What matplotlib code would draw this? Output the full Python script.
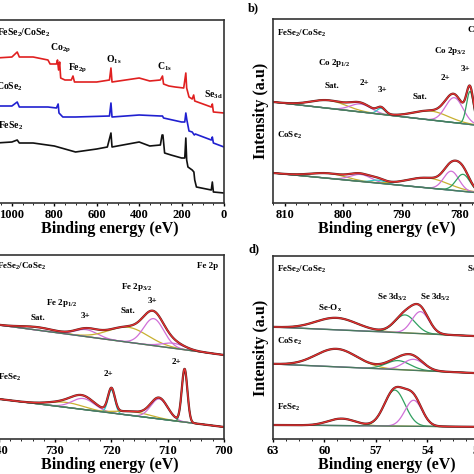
import numpy as np
import matplotlib
matplotlib.use("Agg")
import matplotlib.pyplot as plt

plt.rcParams['font.family'] = ['Liberation Serif', 'DejaVu Serif']
plt.rcParams['font.weight'] = 'bold'
plt.rcParams['mathtext.fontset'] = 'custom'
plt.rcParams['mathtext.rm'] = 'Liberation Serif:bold'
plt.rcParams['mathtext.it'] = 'Liberation Serif:bold'
plt.rcParams['mathtext.default'] = 'rm'

# ---- panel a: survey spectra (energy eV, intensity in plot units; larger value = lower on plot)
survey_e_red = [1075,1000,975,965,900,830,820,790,785,780,775,770,750,720,712,705,600,540,533,528,400,350,300,290,285,260,230,190,180,176,165,150,143,138,60,55,50,0]
survey_red = [58,57,52,57,57,60,64,64,60,70,62,78,80,80,76,82,82,80,68,82,78,81,80,76,84,86,87,88,73,88,97,99,95,101,107,104,112,113]
survey_e_blue = [1075,1000,975,965,900,830,790,782,778,760,700,540,533,528,400,300,290,285,200,185,180,175,165,150,140,135,60,55,50,0]
survey_blue = [106,106,102,107,107,107,108,104,113,117,117,116,103,117,115,116,116,118,122,122,113,120,131,132,135,134,140,137,143,147]
survey_e_black = [1075,1000,975,965,900,800,700,600,550,533,528,400,350,300,292,288,280,250,200,185,180,176,170,150,142,138,130,60,55,50,0]
survey_black = [143,142,140,143,143,146,152,149,147,133,147,142,146,145,135,135,153,155,158,158,138,160,167,170,172,180,187,190,182,192,193]

# ---- XPS fit components: centre (eV), height, sigma (eV), colour key
b_top_base = [(812,102),(773,128)]
b_top_peaks = [(802.5,8,3.0,'y'),(797,8,1.8,'p'),(793.5,6,0.7,'c'),(785,9,3.0,'y'),(781,25,1.5,'p'),(778.3,33,0.6,'g')]
b_bot_base = [(812,173),(773,195)]
b_bot_peaks = [(802.5,5,3.0,'y'),(797,7,1.8,'p'),(794,3,1.2,'c'),(785.5,10,3.5,'y'),(781.5,19,1.3,'p'),(779.5,17,1.2,'g')]

c_top_base = [(740,325),(700,355)]
c_top_peaks = [(733,3,3.0,'y'),(724.5,7,2.0,'p'),(717,15,3.5,'y'),(712.5,27,1.8,'p'),(709,5,2.0,'p')]
c_bot_base = [(740,399),(700,427)]
c_bot_peaks = [(728,5,3.0,'y'),(725,11,2.0,'p'),(720,23,0.6,'c'),(716,4,3.0,'y'),(711.5,20,1.5,'p'),(707,53,0.5,'g')]

d_top_base = [(63,327),(50,337)]
d_top_peaks = [(59.3,12,1.2,'y'),(55.3,18,0.6,'g'),(54.4,22,0.5,'p')]
d_mid_base = [(63,364),(50,374)]
d_mid_peaks = [(59.3,18,1.2,'y'),(55.7,9,0.7,'g'),(54.8,11,0.6,'p')]
d_bot_base = [(63,425),(50,427)]
d_bot_peaks = [(59.0,7,0.8,'y'),(55.9,36,0.6,'g'),(54.8,26,0.5,'p')]

cols = {'y':'#c8b030','p':'#d070d8','c':'#30c8c8','g':'#30a060'}

W = 474
fig = plt.figure(figsize=(4.74,4.74), dpi=100)

def mkax(x0,x1,y0,y1,xlim,ylim):
    ax = fig.add_axes([x0/W, 1-y1/W, (x1-x0)/W, (y1-y0)/W])
    ax.set_xlim(*xlim); ax.set_ylim(*ylim)
    ax.set_yticks([])
    for s in ax.spines.values():
        s.set_linewidth(1.2); s.set_color('#333333')
    ax.tick_params(axis='x', labelsize=9, width=1, length=2.5, pad=2, direction='out')
    ax.minorticks_on(); ax.tick_params(axis='y', which='both', left=False)
    ax.tick_params(axis='x', which='minor', length=1.5)
    ax.set_xlabel('Binding energy (eV)', fontsize=11.5, fontweight='bold', labelpad=0)
    return ax

def fit(ax, base, peaks, xlim):
    e = np.linspace(xlim[0], xlim[1], 600)
    (e0,b0),(e1,b1) = base
    bl = b0 + (b1-b0)*(e-e0)/(e1-e0)
    env = bl.copy()
    for c,h,s,k in peaks:
        g = h*np.exp(-(e-c)**2/(2*s*s))
        env -= g
        ax.plot(e, bl-g, color=cols[k], lw=0.9)
    ax.plot(e, bl, color='#4a7a60', lw=1.0)
    ax.plot(e, env, color='#5a2020', lw=1.6)
    ax.plot(e, env, color='#e83030', lw=0.9)

def txt(ax, x, y, s, fs=6.5, ha='center'):
    ax.text(x/W, 1-y/W, s, transform=fig.transFigure, fontsize=fs, fontweight='bold', ha=ha, va='center')

# a
axa = mkax(-4,224,20,203,(1075,0),(203,20))
axa.set_xticks([1000,800,600,400,200,0])
axa.plot(survey_e_red, survey_red, color='#e02020', lw=1.2)
axa.plot(survey_e_blue, survey_blue, color='#2020d0', lw=1.2)
axa.plot(survey_e_black, survey_black, color='#111111', lw=1.2)
for x,y,s,ha in [(-3,33,'FeSe$_2$/CoSe$_2$','left'),(60,48,'Co$_{2p}$','center'),(78,68,'Fe$_{2p}$','center'),
                 (114,60,'O$_{1s}$','center'),(165,67,'C$_{1s}$','center'),(213,95,'Se$_{3d}$','center'),
                 (-4,87,'CoSe$_2$','left'),(-2,126,'FeSe$_2$','left')]:
    txt(axa,x,y,s,fs=7,ha=ha)

# b
axb = mkax(273,501,19,203,(812,773),(203,19))
axb.set_xticks([810,800,790,780])
axb.set_ylabel('Intensity (a.u)', fontsize=11.5, fontweight='bold', labelpad=3)
fit(axb,b_top_base,b_top_peaks,(812,773)); fit(axb,b_bot_base,b_bot_peaks,(812,773))
for x,y,s,ha in [(277,33,'FeSe$_2$/CoSe$_2$','left'),(334,63,'Co 2p$_{1/2}$','center'),(450,51,'Co 2p$_{3/2}$','center'),
                 (332,86,'Sat.','center'),(364,83,'2+','center'),(382,90,'3+','center'),(420,97,'Sat.','center'),
                 (445,78,'2+','center'),(465,69,'3+','center'),(277,135,'CoSe$_2$','left'),(468,30,'Co 2p','left')]:
    txt(axb,x,y,s,ha=ha)
fig.text(248/W, 1-8/W, 'b)', fontsize=9, fontweight='bold', va='center')

# c
axc = mkax(-4,224,255,439,(740.5,700),(439,255))
axc.set_xticks([740,730,720,710,700])
fit(axc,c_top_base,c_top_peaks,(740.5,700)); fit(axc,c_bot_base,c_bot_peaks,(740.5,700))
for x,y,s,ha in [(-3,266,'FeSe$_2$/CoSe$_2$','left'),(208,266,'Fe 2p','center'),(62,303,'Fe 2p$_{1/2}$','center'),
                 (137,287,'Fe 2p$_{3/2}$','center'),(38,318,'Sat.','center'),(85,316,'3+','center'),
                 (128,311,'Sat.','center'),(152,301,'3+','center'),(-2,377,'FeSe$_2$','left'),
                 (108,374,'2+','center'),(176,362,'2+','center')]:
    txt(axc,x,y,s,ha=ha)

# d
axd = mkax(273,501,256,439,(63,49.7),(439,256))
axd.set_xticks([63,60,57,54,51])
axd.set_ylabel('Intensity (a.u)', fontsize=11.5, fontweight='bold', labelpad=3)
for bs,pk in [(d_top_base,d_top_peaks),(d_mid_base,d_mid_peaks),(d_bot_base,d_bot_peaks)]:
    fit(axd,bs,pk,(63,49.7))
for x,y,s,ha in [(277,269,'FeSe$_2$/CoSe$_2$','left'),(330,308,'Se-O$_x$','center'),(392,297,'Se 3d$_{3/2}$','center'),
                 (435,297,'Se 3d$_{5/2}$','center'),(277,341,'CoSe$_2$','left'),(277,407,'FeSe$_2$','left'),(468,269,'Se 3d','left')]:
    txt(axd,x,y,s,ha=ha)
fig.text(248/W, 1-249/W, 'd)', fontsize=9, fontweight='bold', va='center')

fig.savefig('out.png', dpi=100, facecolor='white')
